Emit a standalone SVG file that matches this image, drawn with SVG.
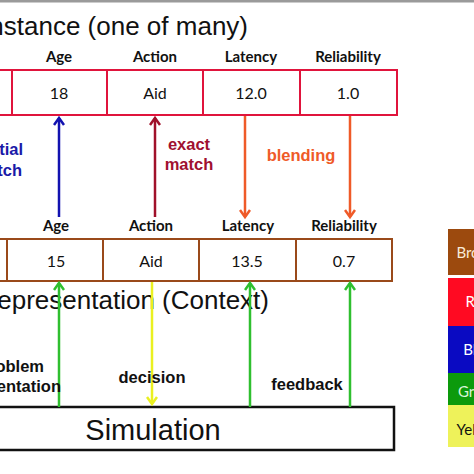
<svg xmlns="http://www.w3.org/2000/svg" width="474" height="474" viewBox="0 0 474 474">
<style>
.title{font-family:"Liberation Sans",Arial,sans-serif;font-size:26px;fill:#111}
.hdr{font-family:Lato,"Liberation Sans",sans-serif;font-weight:bold;font-size:15px;fill:#111;text-anchor:middle}
.val{font-family:Lato,"Liberation Sans",sans-serif;font-size:16px;fill:#111;text-anchor:middle}
.lbl{font-family:"Liberation Sans",Arial,sans-serif;font-weight:bold;font-size:16.5px}
.leg{font-family:Lato,"Liberation Sans",sans-serif;font-size:15px;text-anchor:middle}
.red{fill:none;stroke:#e0143c;stroke-width:2}
.brn{fill:none;stroke:#9a4a1a;stroke-width:2}
.arr{fill:none;stroke-width:2.5}
</style>
<defs>
<marker id="mBlue" markerWidth="12" markerHeight="12" refX="9" refY="6" orient="auto" markerUnits="userSpaceOnUse"><path d="M2,1 L9,6 L2,11" fill="none" stroke="#1212b0" stroke-width="2.5"/></marker>
<marker id="mDred" markerWidth="12" markerHeight="12" refX="9" refY="6" orient="auto" markerUnits="userSpaceOnUse"><path d="M2,1 L9,6 L2,11" fill="none" stroke="#a0102a" stroke-width="2.5"/></marker>
<marker id="mOr" markerWidth="12" markerHeight="12" refX="9" refY="6" orient="auto" markerUnits="userSpaceOnUse"><path d="M2,1 L9,6 L2,11" fill="none" stroke="#ef5a28" stroke-width="2.5"/></marker>
<marker id="mGr" markerWidth="12" markerHeight="12" refX="9" refY="6" orient="auto" markerUnits="userSpaceOnUse"><path d="M2,1 L9,6 L2,11" fill="none" stroke="#2fbf2f" stroke-width="2.5"/></marker>
<marker id="mYe" markerWidth="12" markerHeight="12" refX="9" refY="6" orient="auto" markerUnits="userSpaceOnUse"><path d="M2,1 L9,6 L2,11" fill="none" stroke="#eaf020" stroke-width="2.5"/></marker>
</defs>
<rect x="0" y="0" width="474" height="474" fill="#fff"/>
<rect x="0" y="0" width="474" height="2.5" fill="#9a9a9a"/>

<g id="instance">
<text class="title" x="248" y="35" text-anchor="end">Instance (one of many)</text>
<text class="hdr" x="59" y="62">Age</text>
<text class="hdr" x="155" y="62">Action</text>
<text class="hdr" x="251" y="62">Latency</text>
<text class="hdr" x="348" y="62">Reliability</text>
<rect class="red" x="-90" y="70" width="487" height="45"/>
<line class="red" x1="12" y1="70" x2="12" y2="115"/>
<line class="red" x1="107" y1="70" x2="107" y2="115"/>
<line class="red" x1="203" y1="70" x2="203" y2="115"/>
<line class="red" x1="300" y1="70" x2="300" y2="115"/>
<text class="val" x="59" y="99">18</text>
<text class="val" x="155" y="99">Aid</text>
<text class="val" x="251" y="99">12.0</text>
<text class="val" x="348" y="99">1.0</text>
</g>

<g id="context">
<text class="hdr" x="56" y="231">Age</text>
<text class="hdr" x="151" y="231">Action</text>
<text class="hdr" x="248" y="231">Latency</text>
<text class="hdr" x="344" y="231">Reliability</text>
<rect class="brn" x="-90" y="239" width="482" height="42"/>
<line class="brn" x1="7" y1="239" x2="7" y2="281"/>
<line class="brn" x1="103" y1="239" x2="103" y2="281"/>
<line class="brn" x1="199" y1="239" x2="199" y2="281"/>
<line class="brn" x1="296" y1="239" x2="296" y2="281"/>
<text class="val" x="56" y="267">15</text>
<text class="val" x="151" y="267">Aid</text>
<text class="val" x="247" y="267">13.5</text>
<text class="val" x="344" y="267">0.7</text>
<text class="title" x="269" y="309" text-anchor="end">Representation (Context)</text>
</g>

<g id="simulation">
<rect x="-100" y="407" width="494" height="43" fill="none" stroke="#111" stroke-width="2.5"/>
<text class="title" x="153" y="440" text-anchor="middle" style="font-size:29px">Simulation</text>
</g>

<g id="legend">
<rect x="448" y="229" width="40" height="46" fill="#9c4a0e"/>
<rect x="448" y="278" width="40" height="48" fill="#ff0a22"/>
<rect x="448" y="326" width="40" height="47" fill="#0a0ac2"/>
<rect x="448" y="373" width="40" height="32" fill="#0c9a0c"/>
<rect x="448" y="405" width="40" height="42" fill="#eef25a"/>
<text class="leg" x="478" y="258" fill="#f8ead8">Brown</text>
<text class="leg" x="478" y="307" fill="#fff">Red</text>
<text class="leg" x="478" y="355" fill="#fff">Blue</text>
<text class="leg" x="478" y="397" fill="#d8f5d8">Green</text>
<text class="leg" x="478" y="435" fill="#111">Yellow</text>
</g>

<g id="connectors">
<line class="arr" x1="59" y1="217" x2="59" y2="118" stroke="#1212b0" marker-end="url(#mBlue)"/>
<line class="arr" x1="155" y1="217" x2="155" y2="118" stroke="#a0102a" marker-end="url(#mDred)"/>
<line class="arr" x1="245" y1="116" x2="245" y2="217" stroke="#ef5a28" marker-end="url(#mOr)"/>
<line class="arr" x1="350" y1="116" x2="350" y2="217" stroke="#ef5a28" marker-end="url(#mOr)"/>
<line class="arr" x1="59" y1="407" x2="59" y2="283" stroke="#2fbf2f" marker-end="url(#mGr)"/>
<line class="arr" x1="250" y1="407" x2="250" y2="283" stroke="#2fbf2f" marker-end="url(#mGr)"/>
<line class="arr" x1="350" y1="407" x2="350" y2="283" stroke="#2fbf2f" marker-end="url(#mGr)"/>
<line class="arr" x1="152" y1="282" x2="152" y2="404" stroke="#eaf020" marker-end="url(#mYe)"/>
<text class="lbl" x="23" y="155" text-anchor="end" fill="#1a1aa8">partial</text>
<text class="lbl" x="22" y="176" text-anchor="end" fill="#1a1aa8">match</text>
<text class="lbl" x="189" y="150" text-anchor="middle" fill="#a01030">exact</text>
<text class="lbl" x="189" y="170" text-anchor="middle" fill="#a01030">match</text>
<text class="lbl" x="301" y="161" text-anchor="middle" fill="#ef5a28">blending</text>
<text class="lbl" x="44" y="372" text-anchor="end" fill="#111">problem</text>
<text class="lbl" x="61" y="392" text-anchor="end" fill="#111">representation</text>
<text class="lbl" x="152" y="383" text-anchor="middle" fill="#111">decision</text>
<text class="lbl" x="307" y="390" text-anchor="middle" fill="#111">feedback</text>
</g>
</svg>
